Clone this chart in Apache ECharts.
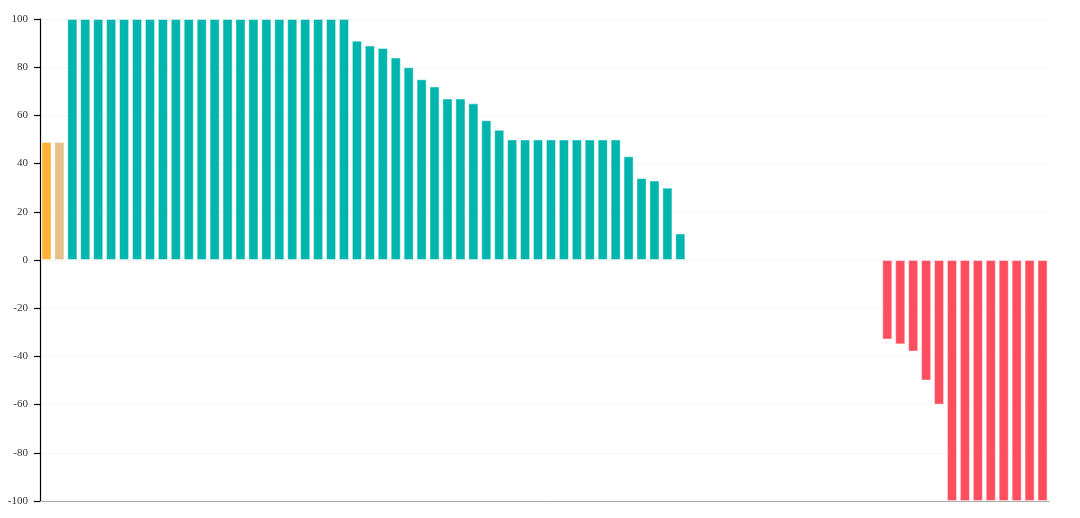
<!DOCTYPE html>
<html>
<head>
<meta charset="utf-8">
<script src="https://cdn.jsdelivr.net/npm/echarts@6/dist/echarts.min.js"></script>
<style>html,body{margin:0;padding:0;background:#fff;}#c{width:1080px;height:518px;}</style>
</head>
<body>
<div id="c"></div>
<script>
// Bar values, left to right (null = empty slot)
const values = [
  49, 49,
  100, 100, 100, 100, 100, 100, 100, 100, 100, 100, 100,
  100, 100, 100, 100, 100, 100, 100, 100, 100, 100, 100,
  91, 89, 88, 84, 80, 75, 72, 67, 67, 65, 58, 54,
  50, 50, 50, 50, 50, 50, 50, 50, 50,
  43, 34, 33, 30, 11,
  null, null, null, null, null, null, null, null, null, null, null, null, null, null, null,
  -33, -35, -38, -50, -60, -100, -100, -100, -100, -100, -100, -100, -100
];
// Group of each bar
const groups = [
  'orange', 'tan',
  'teal','teal','teal','teal','teal','teal','teal','teal','teal','teal','teal',
  'teal','teal','teal','teal','teal','teal','teal','teal','teal','teal','teal',
  'teal','teal','teal','teal','teal','teal','teal','teal','teal','teal','teal','teal',
  'teal','teal','teal','teal','teal','teal','teal','teal','teal',
  'teal','teal','teal','teal','teal',
  'none','none','none','none','none','none','none','none','none','none','none','none','none','none','none',
  'red','red','red','red','red','red','red','red','red','red','red','red','red'
];
const yTicks = [-100, -80, -60, -40, -20, 0, 20, 40, 60, 80, 100];

const palette = { orange: '#FFB236', tan: '#E4C08A', teal: '#00B5AD', red: '#FF4F5E', none: '#ccc' };
const categories = values.map((v, i) => 'c' + i);

const chart = echarts.init(document.getElementById('c'), null, { renderer: 'canvas' });
chart.setOption({
  animation: false,
  backgroundColor: '#ffffff',
  grid: { left: 40, right: 31, top: 19, bottom: 17, containLabel: false },
  xAxis: {
    type: 'category',
    data: categories,
    axisLine: { onZero: false, lineStyle: { color: '#aaaaaa', width: 1 } },
    axisTick: { show: false },
    axisLabel: { show: false },
    splitLine: { show: false }
  },
  yAxis: {
    type: 'value',
    min: yTicks[0],
    max: yTicks[yTicks.length - 1],
    interval: 20,
    axisLine: { show: true, lineStyle: { color: '#000', width: 1.2 } },
    axisTick: { show: true, length: 6, lineStyle: { color: '#000', width: 1.2 } },
    axisLabel: { color: '#333', fontFamily: 'Liberation Serif', fontSize: 11, margin: 12 },
    splitLine: { show: true, lineStyle: { color: '#f5f5f5', width: 1 } }
  },
  series: [{
    type: 'bar',
    barCategoryGap: '22%',
    data: values.map((v, i) => ({
      value: v,
      itemStyle: {
        color: palette[groups[i]],
        borderColor: 'rgba(255,255,255,0.45)',
        borderWidth: 1
      }
    }))
  }]
});
</script>
</body>
</html>
